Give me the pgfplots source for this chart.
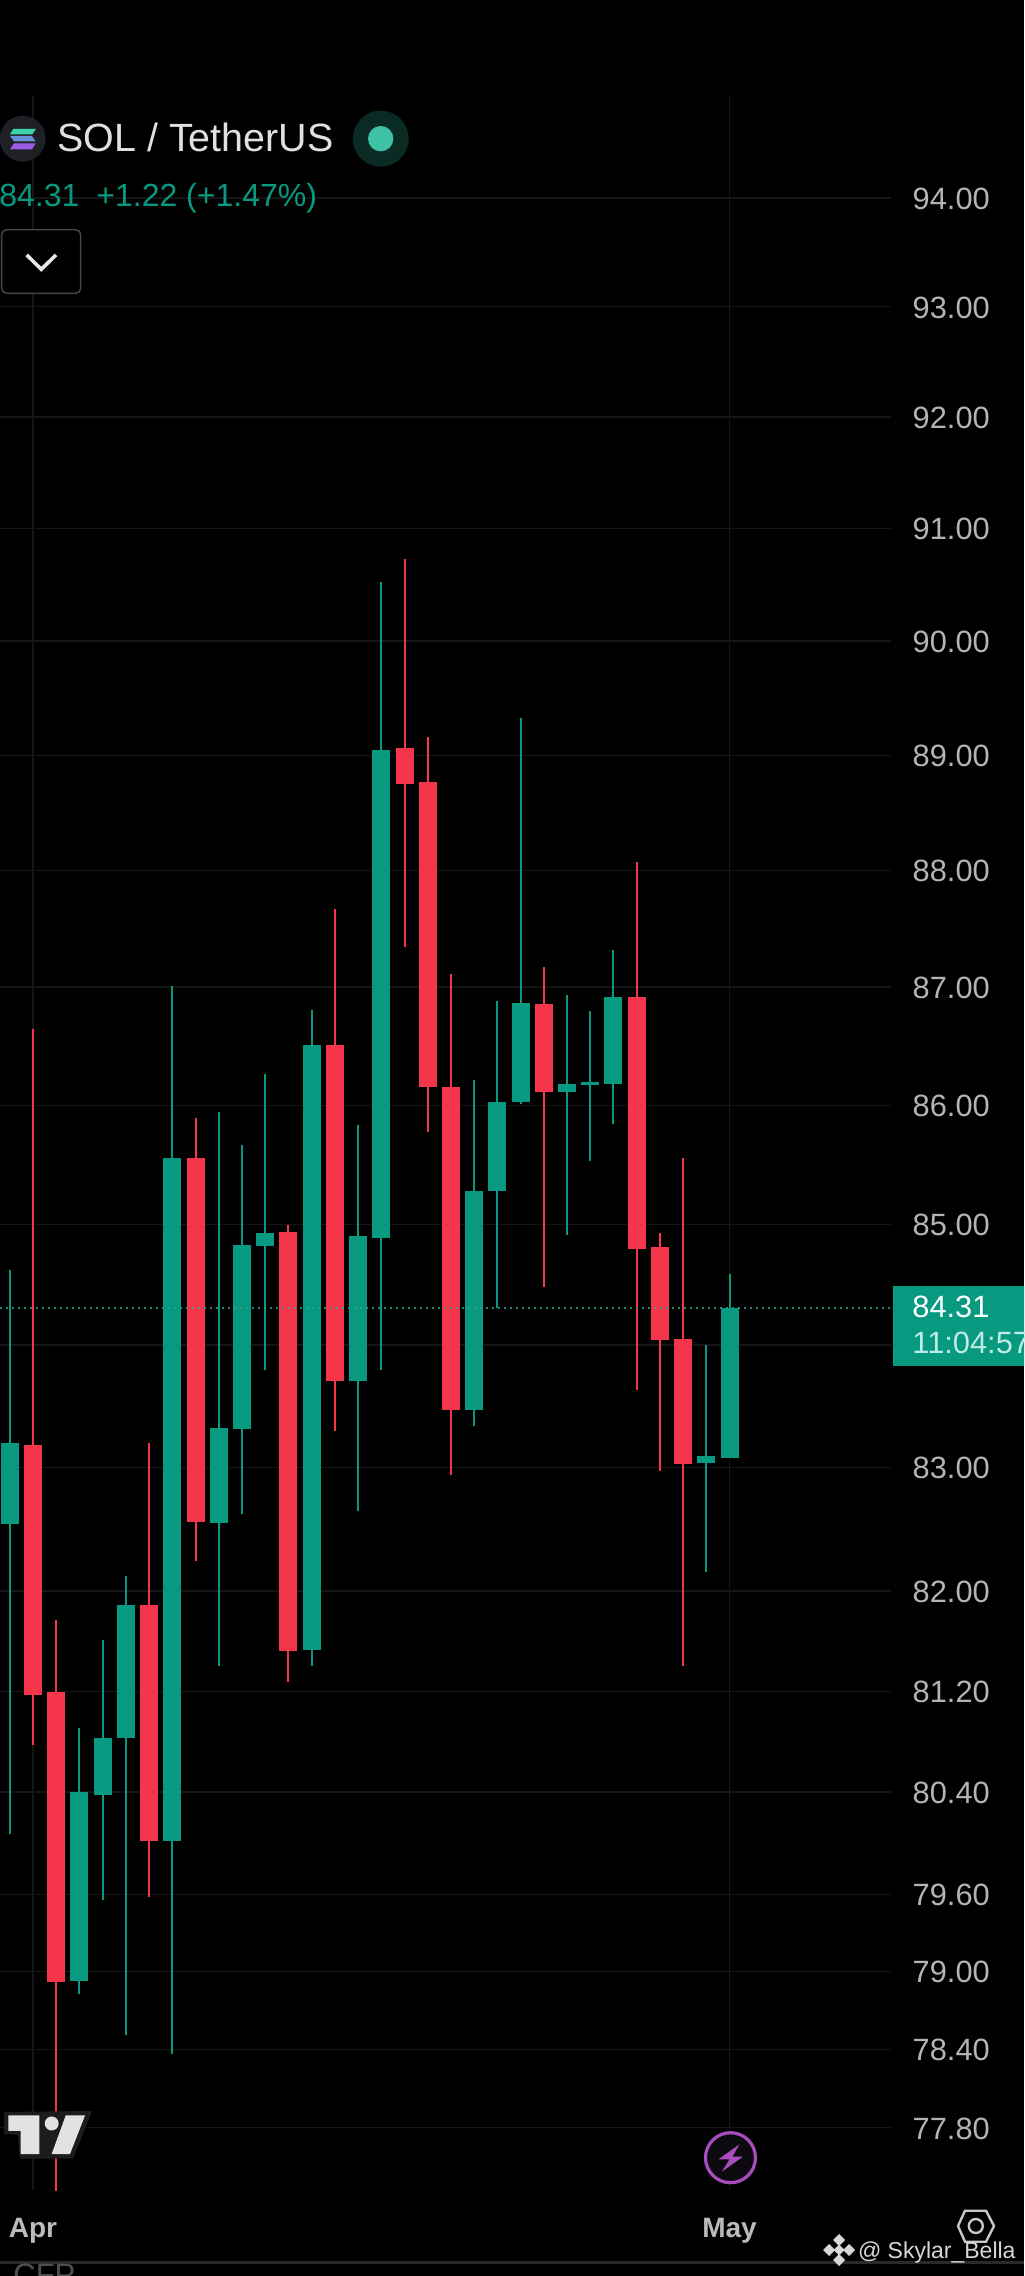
\documentclass[border=0pt]{standalone}
\usepackage{pgfplots}
\usepackage{fontspec}
\setmainfont{Liberation Sans}
\pgfplotsset{compat=1.18}
\definecolor{upc}{HTML}{089981}
\definecolor{dnc}{HTML}{F5364A}
\definecolor{gridc}{HTML}{151515}
\definecolor{tickc}{HTML}{B4B4B4}
\pgfplotsset{
  wick/.style={forget plot, mark=none, line width=1pt, line cap=butt},
  body/.style={forget plot, mark=none, line width=9pt, line cap=butt},
}
\begin{document}
\begin{tikzpicture}
\path[use as bounding box, clip] (0,-43pt) rectangle (512pt,1095pt);
\fill[black] (0,-43pt) rectangle (512pt,1095pt);
\begin{axis}[
  at={(0,0)}, anchor=south west, scale only axis,
  width=445.35pt, height=1047pt,
  y coord trafo/.code={\pgfmathparse{1000*ln(#1)}},
  xmin=-0.422, xmax=37.94, ymin=77.328, ymax=94.94,
  axis line style={draw=none},
  major tick length=0pt, minor tick length=0pt, tick style={draw=none},
  ytick={94,93,92,91,90,89,88,87,86,85,84,83,82,81.2,80.4,79.6,79,78.4,77.8},
  yticklabels={94.00,93.00,92.00,91.00,90.00,89.00,88.00,87.00,86.00,85.00,84.00,83.00,82.00,81.20,80.40,79.60,79.00,78.40,77.80},
  yticklabel pos=right,
  yticklabel style={anchor=west, inner sep=0pt, xshift=10.8pt, yshift=-0.4pt, font=\fontsize{15.4}{18}\selectfont, text=tickc},
  xtick={1,31}, xticklabels={Apr,May},
  xticklabel style={anchor=base, inner sep=0pt, yshift=-23.5pt, font=\fontsize{14}{16}\selectfont\bfseries, text=tickc!90!white},
  grid=major, grid style={draw=gridc, line width=0.7pt},
  clip=true,
]
% up candles: wick (low to high), body (open to close)
\addplot[wick,upc] coordinates {(0,80.07)(0,84.62)};  \addplot[body,upc] coordinates {(0,82.54)(0,83.20)};
\addplot[wick,upc] coordinates {(3,78.85)(3,80.91)};  \addplot[body,upc] coordinates {(3,78.94)(3,80.40)};
\addplot[wick,upc] coordinates {(4,79.57)(4,81.61)};  \addplot[body,upc] coordinates {(4,80.38)(4,80.83)};
\addplot[wick,upc] coordinates {(5,78.52)(5,82.12)};  \addplot[body,upc] coordinates {(5,80.83)(5,81.89)};
\addplot[wick,upc] coordinates {(7,78.38)(7,87.01)};  \addplot[body,upc] coordinates {(7,80.02)(7,85.56)};
\addplot[wick,upc] coordinates {(9,81.40)(9,85.94)};  \addplot[body,upc] coordinates {(9,82.55)(9,83.32)};
\addplot[wick,upc] coordinates {(10,82.62)(10,85.67)};\addplot[body,upc] coordinates {(10,83.31)(10,84.83)};
\addplot[wick,upc] coordinates {(11,83.80)(11,86.26)};\addplot[body,upc] coordinates {(11,84.82)(11,84.93)};
\addplot[wick,upc] coordinates {(13,81.40)(13,86.81)};\addplot[body,upc] coordinates {(13,81.53)(13,86.51)};
\addplot[wick,upc] coordinates {(15,82.65)(15,85.83)};\addplot[body,upc] coordinates {(15,83.71)(15,84.90)};
\addplot[wick,upc] coordinates {(16,83.80)(16,90.52)};\addplot[body,upc] coordinates {(16,84.89)(16,89.05)};
\addplot[wick,upc] coordinates {(20,83.34)(20,86.21)};\addplot[body,upc] coordinates {(20,83.47)(20,85.28)};
\addplot[wick,upc] coordinates {(21,84.31)(21,86.88)};\addplot[body,upc] coordinates {(21,85.28)(21,86.03)};
\addplot[wick,upc] coordinates {(22,86.01)(22,89.32)};\addplot[body,upc] coordinates {(22,86.03)(22,86.87)};
\addplot[wick,upc] coordinates {(24,84.91)(24,86.93)};\addplot[body,upc] coordinates {(24,86.11)(24,86.18)};
\addplot[wick,upc] coordinates {(25,85.53)(25,86.80)};\addplot[body,upc] coordinates {(25,86.17)(25,86.19)};
\addplot[wick,upc] coordinates {(26,85.84)(26,87.32)};\addplot[body,upc] coordinates {(26,86.18)(26,86.92)};
\addplot[wick,upc] coordinates {(30,82.15)(30,84.00)};\addplot[body,upc] coordinates {(30,83.04)(30,83.09)};
\addplot[wick,upc] coordinates {(31,83.08)(31,84.59)};\addplot[body,upc] coordinates {(31,83.08)(31,84.31)};
% down candles
\addplot[wick,dnc] coordinates {(1,80.77)(1,86.64)};  \addplot[body,dnc] coordinates {(1,81.17)(1,83.18)};
\addplot[wick,dnc] coordinates {(2,77.33)(2,81.77)};  \addplot[body,dnc] coordinates {(2,78.93)(2,81.19)};
\addplot[wick,dnc] coordinates {(6,79.59)(6,83.20)};  \addplot[body,dnc] coordinates {(6,80.02)(6,81.89)};
\addplot[wick,dnc] coordinates {(8,82.24)(8,85.89)};  \addplot[body,dnc] coordinates {(8,82.56)(8,85.56)};
\addplot[wick,dnc] coordinates {(12,81.27)(12,85.00)};\addplot[body,dnc] coordinates {(12,81.52)(12,84.94)};
\addplot[wick,dnc] coordinates {(14,83.30)(14,87.67)};\addplot[body,dnc] coordinates {(14,83.71)(14,86.51)};
\addplot[wick,dnc] coordinates {(17,87.34)(17,90.73)};\addplot[body,dnc] coordinates {(17,88.75)(17,89.06)};
\addplot[wick,dnc] coordinates {(18,85.77)(18,89.16)};\addplot[body,dnc] coordinates {(18,86.15)(18,88.77)};
\addplot[wick,dnc] coordinates {(19,82.94)(19,87.11)};\addplot[body,dnc] coordinates {(19,83.47)(19,86.15)};
\addplot[wick,dnc] coordinates {(23,84.48)(23,87.17)};\addplot[body,dnc] coordinates {(23,86.11)(23,86.86)};
\addplot[wick,dnc] coordinates {(27,83.63)(27,88.07)};\addplot[body,dnc] coordinates {(27,84.80)(27,86.92)};
\addplot[wick,dnc] coordinates {(28,82.97)(28,84.93)};\addplot[body,dnc] coordinates {(28,84.04)(28,84.81)};
\addplot[wick,dnc] coordinates {(29,81.40)(29,85.56)};\addplot[body,dnc] coordinates {(29,83.03)(29,84.05)};
% last-price line
\addplot[forget plot, mark=none, draw=upc!85!white, opacity=0.8, line width=1pt, dash pattern=on 1pt off 2pt] coordinates {(-0.422,84.31) (37.94,84.31)};
\end{axis}
\begin{scope}[x=0.5pt, y=-0.5pt, yshift=1095pt]
  % header
  \fill[fill={rgb,255:red,30;green,32;blue,38}] (22.7,138.7) circle (11.5pt);
  \fill[fill={rgb,255:red,60;green,211;blue,168}] (13.3,129)--(36,129)--(32.3,134.3)--(10,134.3)--cycle;
  \fill[fill={rgb,255:red,106;green,143;blue,216}] (10,136)--(31.7,136)--(35.7,141.3)--(14,141.3)--cycle;
  \fill[fill={rgb,255:red,155;green,92;blue,232}] (14,143.3)--(35.7,143.3)--(32,149.3)--(10,149.3)--cycle;
  \node[anchor=base west, inner sep=0pt, text={rgb,255:red,224;green,224;blue,224}, font=\fontsize{19.7}{22}\selectfont] at (57,151.7) {SOL / TetherUS};
  \fill[fill={rgb,255:red,10;green,42;blue,36}] (380.7,138.7) circle (14pt);
  \fill[fill={rgb,255:red,63;green,193;blue,165}] (380.7,138.7) circle (6.35pt);
  \node[anchor=base west, inner sep=0pt, text=upc, font=\fontsize{16}{18}\selectfont] at (-1,207) {84.31};
  \node[anchor=base west, inner sep=0pt, text=upc, font=\fontsize{16}{18}\selectfont] at (96,207) {+1.22 (+1.47\%)};
  \draw[draw={rgb,255:red,70;green,70;blue,70}, line width=0.75pt, rounded corners=2.5pt, fill=black] (1.7,229.7) rectangle (80.7,293.3);
  \draw[draw={rgb,255:red,232;green,232;blue,232}, line width=1.8pt] (26.7,255)--(41.3,269.3)--(56,255);
  % price tag
  \fill[upc] (893,1286) rectangle (1030,1365.7);
  \node[anchor=base west, inner sep=0pt, text=white, font=\fontsize{15.4}{18}\selectfont] at (912,1318) {84.31};
  \node[anchor=base west, inner sep=0pt, text={rgb,255:red,190;green,236;blue,226}, font=\fontsize{15.4}{18}\selectfont] at (912,1354) {11:04:57};
  % TradingView logo
  \fill[fill={rgb,255:red,28;green,28;blue,28}] (4,2112)--(92,2111)--(73,2158.6)--(20,2158.6)--(18,2135)--(4,2134)--cycle;
  \fill[fill={rgb,255:red,226;green,226;blue,226}] (8.3,2115.5)--(39.3,2115.5)--(39.3,2154)--(20.7,2154)--(20.7,2130.8)--(8.3,2130.8)--cycle;
  \fill[fill={rgb,255:red,226;green,226;blue,226}] (51.7,2123.5) circle (3.5pt);
  \fill[fill={rgb,255:red,226;green,226;blue,226}] (65.7,2115.5)--(85,2115.5)--(70,2154)--(51.7,2154)--cycle;
  % lightning
  \draw[draw={rgb,255:red,168;green,76;blue,192}, line width=1.6pt, fill={rgb,255:red,12;green,10;blue,14}] (730.5,2157.7) circle (12.5pt);
  \fill[fill={rgb,255:red,168;green,76;blue,192}] (739.5,2144.3)--(718.5,2159.3)--(729.5,2159.3)--(721.9,2171.7)--(742.8,2156.7)--(732.4,2156.7)--cycle;
  % gear
  \draw[draw={rgb,255:red,200;green,200;blue,200}, line width=1.2pt] (965,2210.7)--(986,2210.7)--(994,2226)--(986,2241.7)--(965,2241.7)--(958,2226)--cycle;
  \draw[draw={rgb,255:red,200;green,200;blue,200}, line width=1.2pt] (975.8,2226) circle (3.5pt);
  % bottom
  \fill[fill={rgb,255:red,42;green,42;blue,42}] (0,2260.5) rectangle (1024,2263.5);
  \node[anchor=base west, inner sep=0pt, text={rgb,255:red,80;green,80;blue,80}, font=\fontsize{15.5}{18}\selectfont] at (13,2285) {CFP};
  % watermark
  \node[anchor=base west, inner sep=0pt, text={rgb,255:red,215;green,215;blue,215}, font=\fontsize{11.5}{14}\selectfont] at (857.6,2258) {@ Skylar\_Bella};
  \foreach \cx/\cy/\r in {839/2250/5.5, 839/2240/6, 839/2260/6, 829/2250/6, 849/2250/6}{
    \fill[fill={rgb,255:red,215;green,215;blue,215}] (\cx-\r,\cy)--(\cx,\cy-\r)--(\cx+\r,\cy)--(\cx,\cy+\r)--cycle;
  }
\end{scope}
\end{tikzpicture}
\end{document}
